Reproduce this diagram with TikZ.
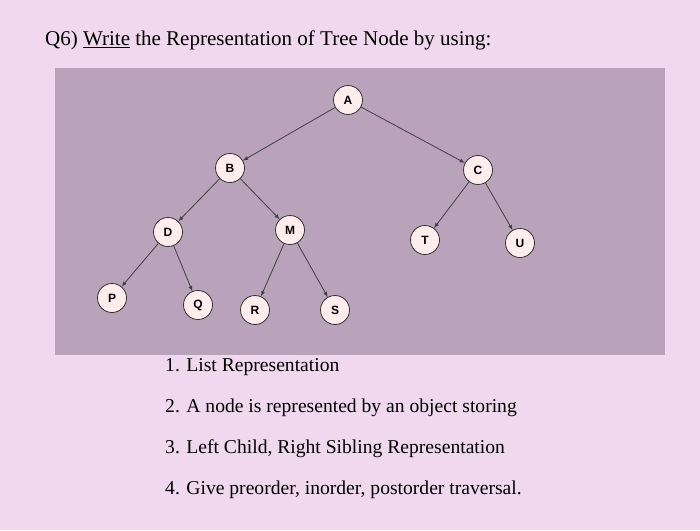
\documentclass[tikz,border=0pt]{standalone}
\usepackage{fontspec}
\setmainfont{Liberation Serif}
\newfontfamily\nodefont{Liberation Sans}
\begin{document}
\begin{tikzpicture}[x=1pt,y=-1pt,
  tn/.style={circle,draw=black!80,thick,fill=pink!30,minimum size=29pt,inner sep=0pt,font=\nodefont\large\bfseries},
  ed/.style={-latex,thick,draw=black!75},
  txt/.style={anchor=west,inner sep=0pt,font=\fontsize{19.6}{24}\selectfont}]
\fill[fill={rgb,255:red,240;green,216;blue,238}] (0,0) rectangle (700,530);
\fill[fill={rgb,255:red,184;green,163;blue,186}] (55,68) rectangle (665,355);
\node[anchor=west,inner sep=0pt,font=\fontsize{21}{25}\selectfont] (title) at (45,40) {Q6)\ \underline{Write} the Representation of Tree Node by using:};
\node[tn] (A) at (348,100) {A};
\node[tn] (B) at (230,168) {B};
\node[tn] (C) at (478,170) {C};
\node[tn] (D) at (168,232) {D};
\node[tn] (M) at (290,230) {M};
\node[tn] (T) at (425,240) {T};
\node[tn] (U) at (520,243) {U};
\node[tn] (P) at (112,298) {P};
\node[tn] (Q) at (198,305) {Q};
\node[tn] (R) at (255,310) {R};
\node[tn] (S) at (335,310) {S};
\foreach \a/\b in {A/B,A/C,B/D,B/M,D/P,D/Q,M/R,M/S,C/T,C/U}
  \draw[ed] (\a) -- (\b);
\node[txt] (l1) at (165,367) {1. List Representation};
\node[txt] (l2) at (165,408) {2. A node is represented by an object storing};
\node[txt] (l3) at (165,449) {3. Left Child, Right Sibling Representation};
\node[txt] (l4) at (165,490) {4. Give preorder, inorder, postorder traversal.};
\end{tikzpicture}
\end{document}
